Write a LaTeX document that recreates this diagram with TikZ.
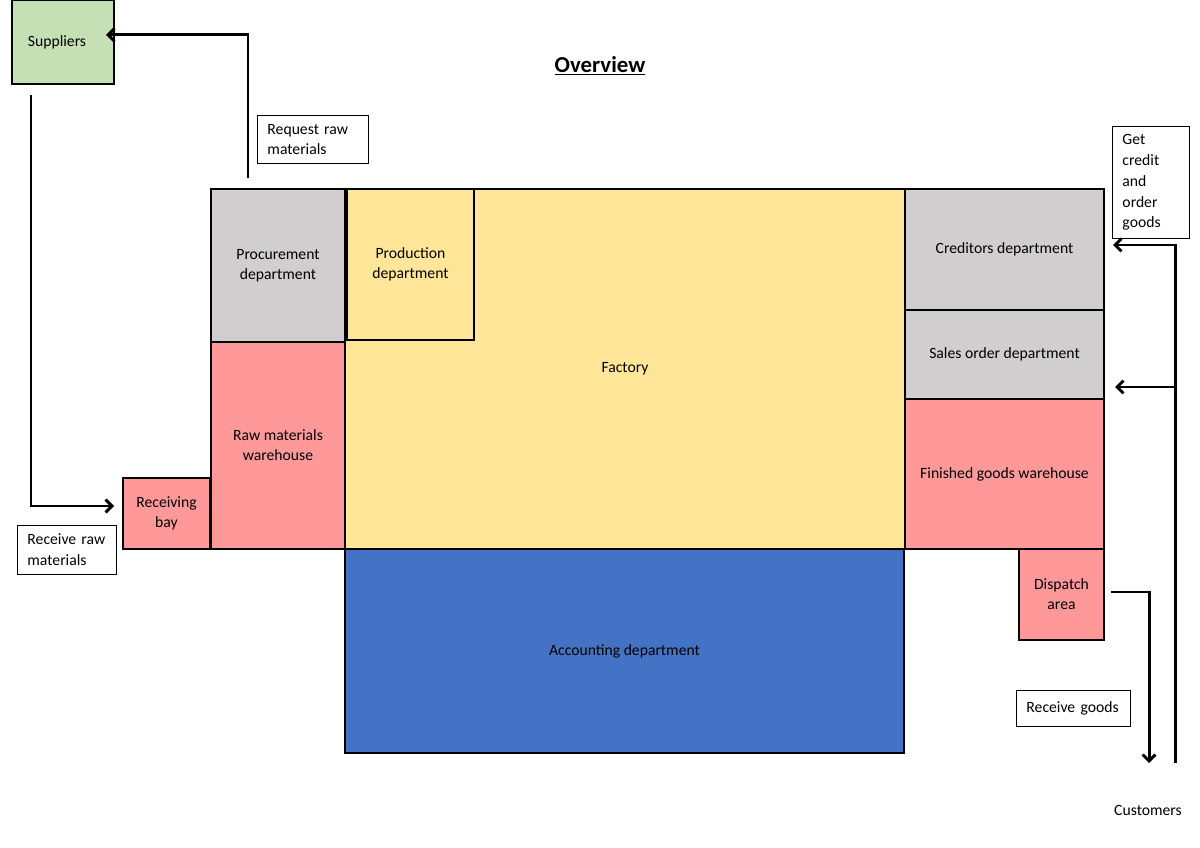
\documentclass[tikz,border=0pt]{standalone}
\usepackage{fontspec}
\setmainfont{Carlito}
\usetikzlibrary{arrows.meta}
\definecolor{supgreen}{HTML}{C5E0B4}
\definecolor{deptgray}{HTML}{D0CECE}
\definecolor{whpink}{HTML}{FF9999}
\definecolor{facyellow}{HTML}{FFE699}
\definecolor{accblue}{HTML}{4472C4}
\begin{document}
\begin{tikzpicture}[x=0.7017pt,y=-0.7017pt,
  sz/.style 2 args={minimum width=#1*0.7017pt,minimum height=#2*0.7017pt},
  area/.style={draw=black,line width=1.4pt,inner sep=0pt,align=center,font=\fontsize{11}{14}\selectfont},
  note/.style={draw=black,line width=0.7pt,anchor=north west,inner xsep=7pt,inner ysep=0pt,align=left,font=\fontsize{11}{14.6}\selectfont},
  flow/.style={line width=2.1pt,-{Straight Barb[length=4.5pt,width=9pt,line width=2pt]}}]
\useasboundingbox (0,0) rectangle (1200,848);

% title
\node (title) at (600,66) {\fontsize{16}{19}\selectfont\bfseries\underline{Overview}};

% suppliers
\node[area,fill=supgreen,sz={102}{84}] (suppliers) at (63,42) {Suppliers\hspace{8.4pt}};

% left side
\node[area,fill=deptgray,sz={134}{153}] (procurement) at (278,265.5) {Procurement\\department};
\node[area,fill=whpink,sz={134}{207}] (rawwh) at (278,445.5) {Raw materials\\warehouse};
\node[area,fill=whpink,sz={87}{71}] (receiving) at (166.5,513.5) {Receiving\\bay};

% factory
\node[area,fill=facyellow,sz={560}{360}] (factory) at (625,369) {Factory};
\node[area,fill=facyellow,sz={127}{151}] (production) at (410.5,264.5) {Production\\department};
\node[area,fill=accblue,sz={559}{204}] (accounting) at (624.5,651) {Accounting department};

% right side
\node[area,fill=deptgray,sz={199}{121}] (creditors) at (1004.5,249.5) {Creditors department};
\node[area,fill=deptgray,sz={199}{89}] (salesorder) at (1004.5,354.5) {Sales order department};
\node[area,fill=whpink,sz={199}{150}] (finished) at (1004.5,474) {Finished goods warehouse};
\node[area,fill=whpink,sz={85}{91}] (dispatch) at (1061.5,594.5) {Dispatch\\area};

% notes
\node[note,text width=91*0.7017pt,minimum height=48*0.7017pt] (reqnote) at (257,115) {Request raw\\materials};
\node[note,text width=79*0.7017pt,minimum height=49*0.7017pt] (recvnote) at (17,525) {Receive raw\\materials};
\node[note,text width=57*0.7017pt,minimum height=112*0.7017pt] (creditnote) at (1112,126) {Get\\credit\\and\\order\\goods};
\node[note,text width=94*0.7017pt,minimum height=36*0.7017pt] (goodsnote) at (1016,690) {Receive goods};
\node[font=\fontsize{11}{14}\selectfont] (customers) at (1148,810) {Customers};

% connector ends
\coordinate (reqstart) at (248,178);
\coordinate (suptip) at (106,35);
\coordinate (supstart) at (31,95);
\coordinate (recvtip) at (114,506);
\coordinate (dispstart) at (1111,592);
\coordinate (custtip) at (1149,763);
\coordinate (custstart) at (1175,763);
\coordinate (credtip) at (1113,245);
\coordinate (custbranch) at (1175,387);
\coordinate (salestip) at (1115,387);

% connectors
\draw[flow] (reqstart) |- (suptip);
\draw[flow] (supstart) |- (recvtip);
\draw[flow] (dispstart) -| (custtip);
\draw[flow] (custstart) |- (credtip);
\draw[flow] (custbranch) -- (salestip);
\end{tikzpicture}
\end{document}
